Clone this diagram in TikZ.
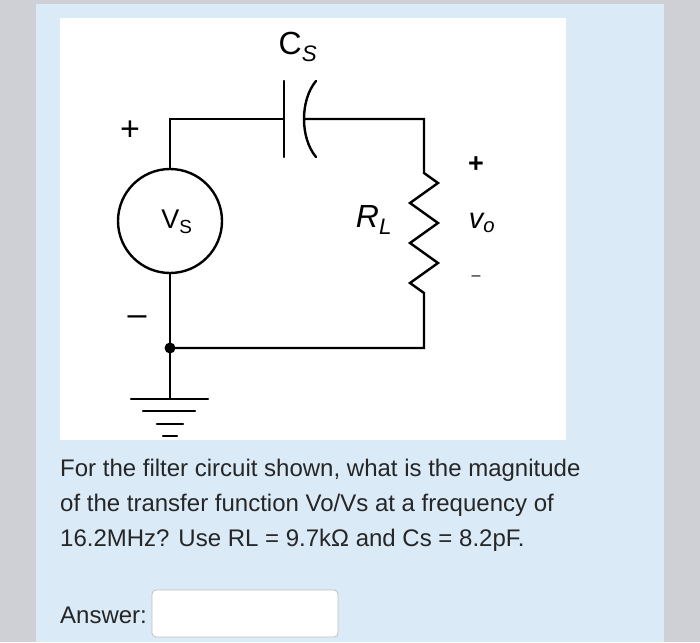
\documentclass[tikz,border=0pt]{standalone}
\usepackage{fontspec}
\setmainfont{Liberation Sans}
\definecolor{outergray}{RGB}{207,208,213}
\definecolor{panelblue}{RGB}{218,234,247}
\begin{document}
\begin{tikzpicture}[x=1pt,y=-1pt,
  wire/.style={line width=2.4pt,line cap=round},
  lbl/.style={inner sep=0pt,font=\fontsize{27}{30}\selectfont},
  qtext/.style={inner sep=0pt,anchor=base west,font=\fontsize{24}{28}\selectfont,text=black!85}]
\useasboundingbox (0,0) rectangle (700,642);
\fill[outergray] (0,0) rectangle (700,642);
\fill[panelblue] (36,4) rectangle (664,642);
\fill[white] (60,18) rectangle (566,440);
% circuit
\node[draw,circle,line width=2.4pt,minimum size=104pt,inner sep=0pt] (vs) at (170,221) {};
\node[lbl] (vsl) at (177,222) {V\textsubscript{S}};
\coordinate (tl) at (170,119);
\coordinate (ca) at (284,119);
\coordinate (cb) at (305,119);
\coordinate (tr) at (424,119);
\coordinate (r1) at (424,173);
\coordinate (r2) at (424,293);
\coordinate (br) at (424,348);
\coordinate (bl) at (170,348);
\coordinate (g) at (170,399);
\draw[wire] (vs.north) -- (tl) -- (ca);
\draw[wire] (284,81) -- (284,157);
\draw[wire] (316,81) .. controls (300,100) and (300,138) .. (316,157);
\draw[wire] (cb) -- (tr) -- (r1) -- (438,183) -- (410,203) -- (438,223) -- (410,243) -- (438,263) -- (410,283) -- (r2) -- (br) -- (bl);
\draw[wire] (vs.south) -- (bl) -- (g);
\fill (bl) circle (5.5);
\draw[wire] (131,399) -- (208,399);
\draw[wire] (143,411) -- (195,411);
\draw[wire] (157,424) -- (183,424);
\draw[wire] (163,436) -- (177,436);
\node[lbl,font=\fontsize{34}{36}\selectfont] (pl) at (130,131) {+};
\node[lbl,font=\fontsize{34}{36}\selectfont] (mi) at (137,321) {\textendash};
\node[lbl,font=\bfseries\fontsize{27}{28}\selectfont] (po) at (476,165) {+};
\node[lbl,font=\fontsize{16}{18}\selectfont] (mo) at (476,278) {\textendash};
\node[lbl,font=\fontsize{32}{34}\selectfont] (csl) at (298,47) {C\textsubscript{\textit{S}}};
\node[lbl,font=\itshape\fontsize{32}{34}\selectfont] (rl) at (374,220) {R\textsubscript{L}};
\node[lbl,font=\itshape\fontsize{29}{30}\selectfont] (vo) at (482,223) {v\textsubscript{o}};
% text
\node[qtext] (t1) at (60,476) {For the filter circuit shown, what is the magnitude};
\node[qtext] (t2) at (60,511) {of the transfer function Vo/Vs at a frequency of};
\node[qtext] (t3) at (60,546) {16.2MHz? Use RL = 9.7k\symbol{"03A9} and Cs = 8.2pF.};
\node[qtext] (ans) at (60,623) {Answer:};
\draw[black!25,fill=white,rounded corners=4pt,line width=0.8pt] (152,590) rectangle (338,637);
\end{tikzpicture}
\end{document}
